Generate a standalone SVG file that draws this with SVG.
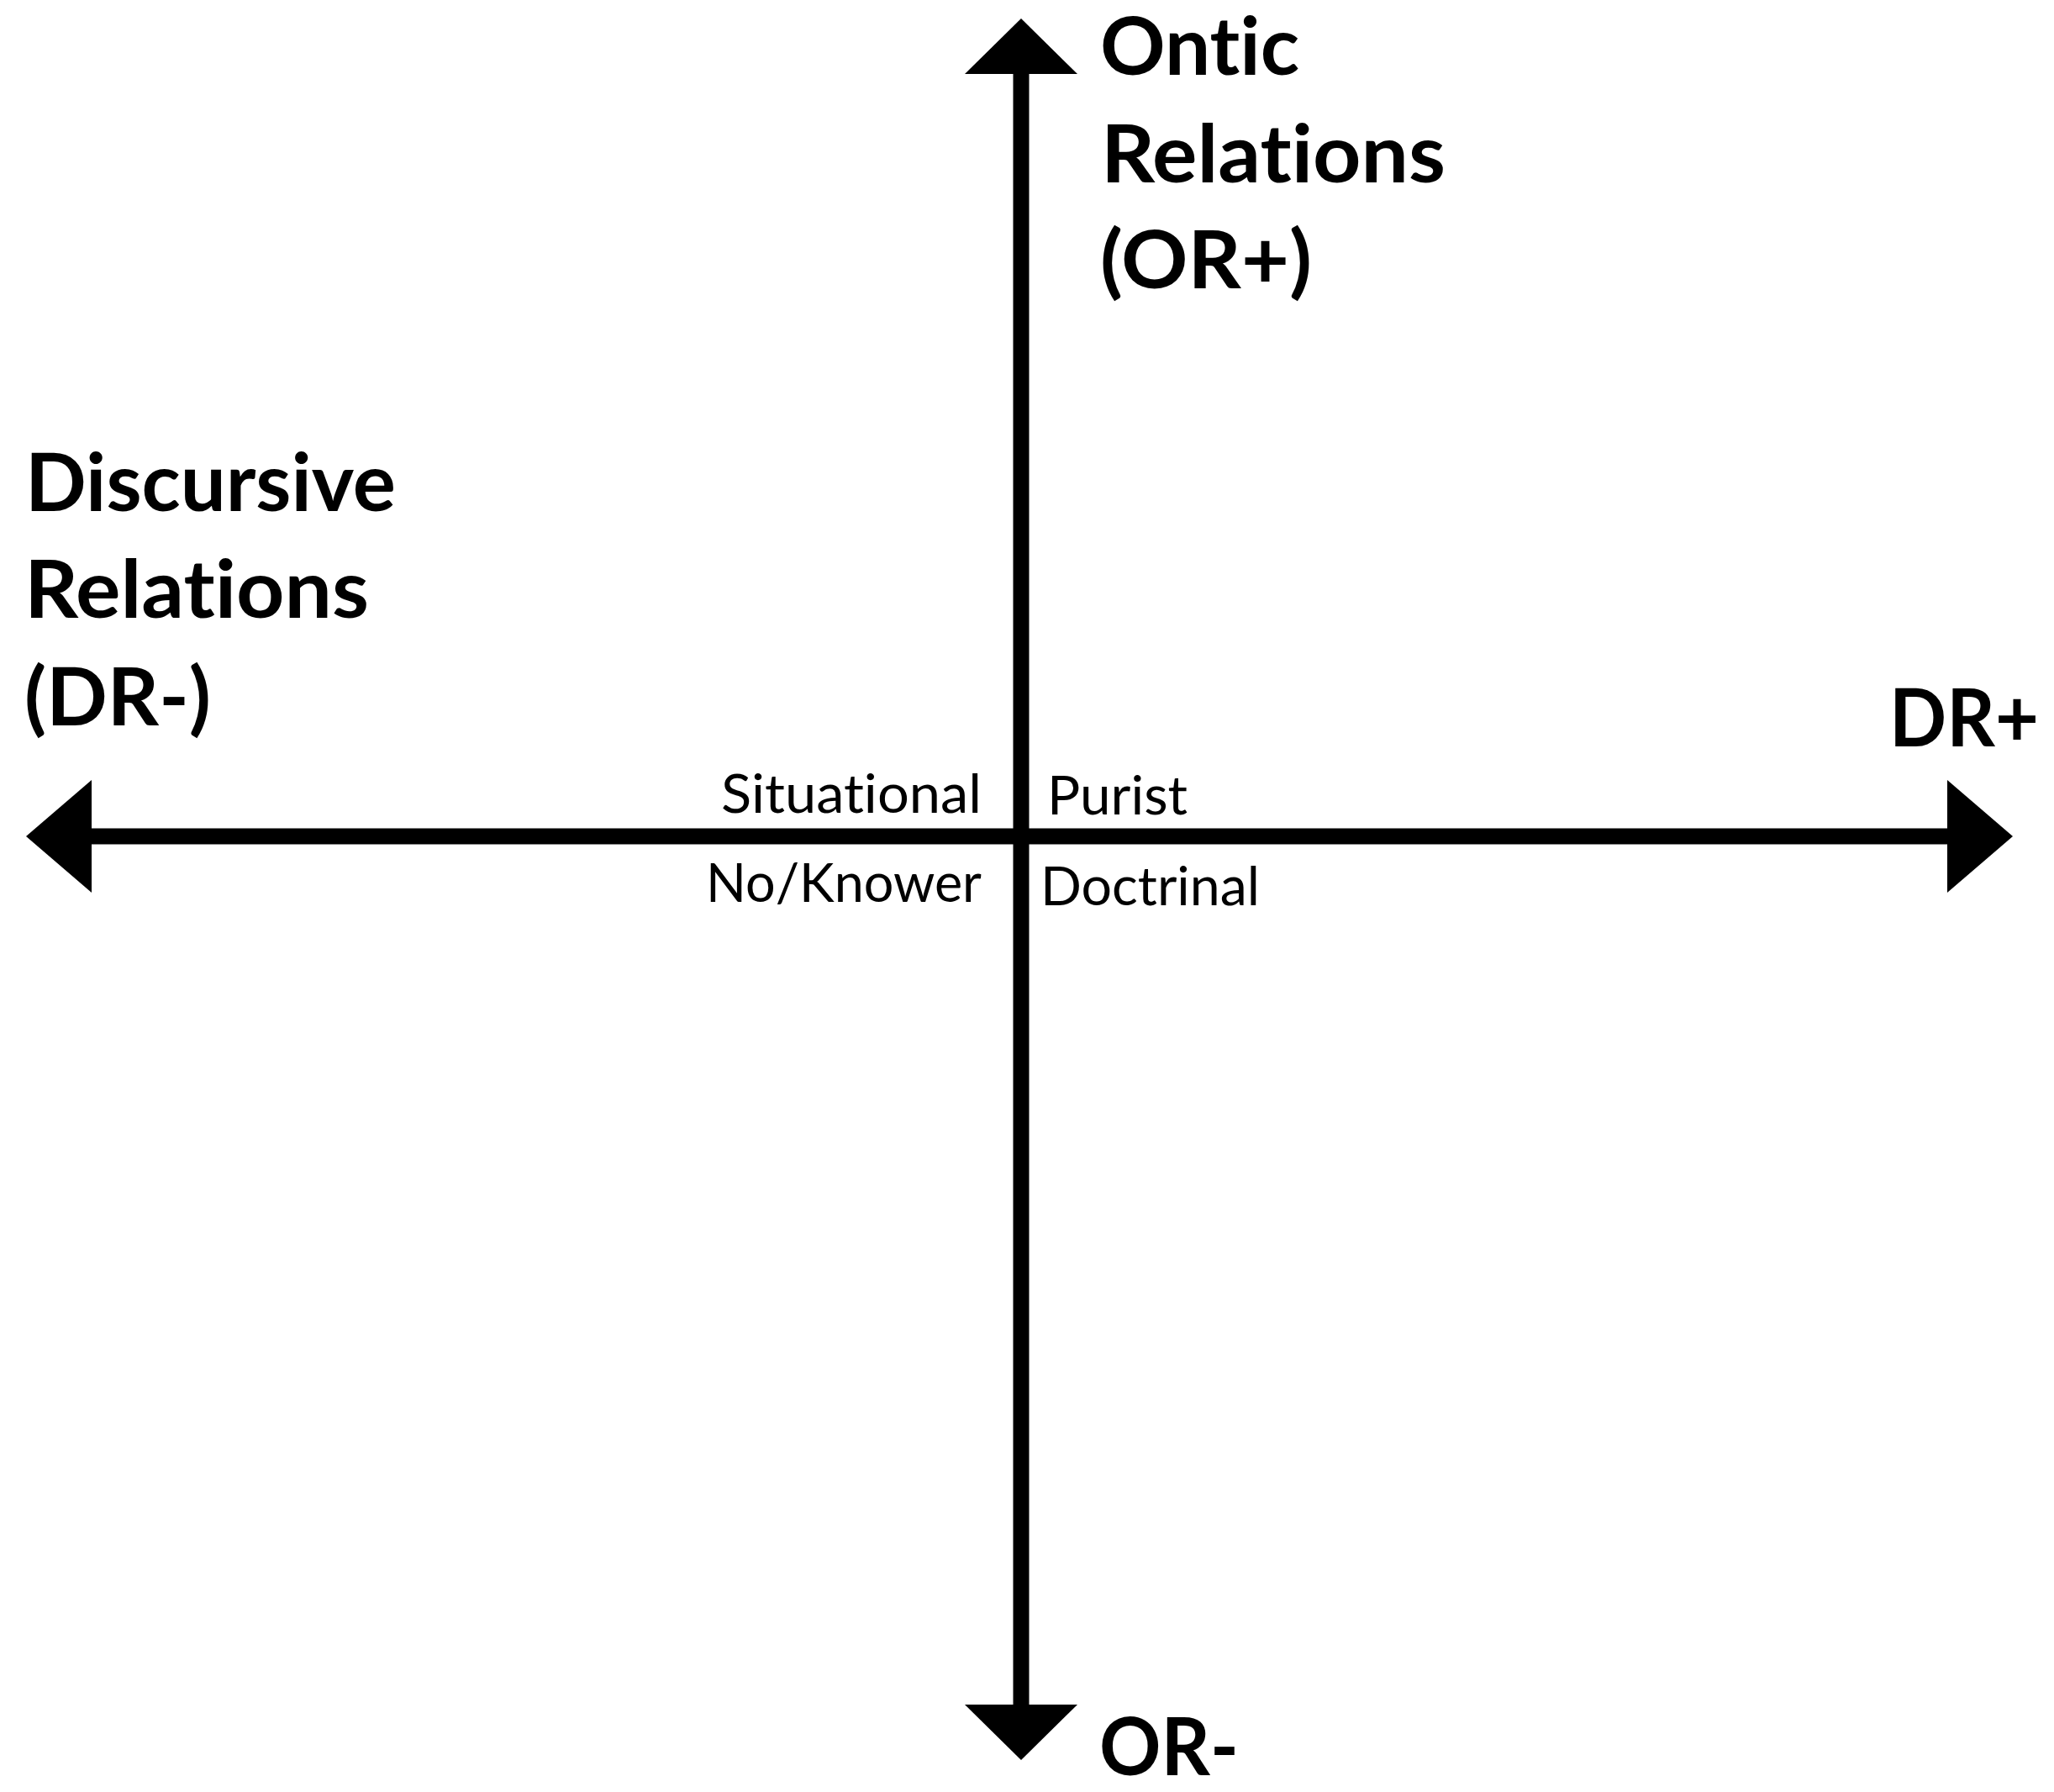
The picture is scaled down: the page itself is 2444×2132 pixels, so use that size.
<svg xmlns="http://www.w3.org/2000/svg" width="2444" height="2132" viewBox="0 0 2444 2132">
  <style>
    .axis { stroke: #000; stroke-width: 19; fill: none; stroke-linecap: butt; }
    .big { font-family: Lato, "Open Sans", "Liberation Sans", sans-serif; font-weight: 700; font-size: 95px; fill: #000; font-variant-ligatures: none; font-feature-settings: "liga" 0, "clig" 0; }
    .small { font-family: Lato, "Open Sans", "Liberation Sans", sans-serif; font-weight: 400; font-size: 63px; fill: #000; font-variant-ligatures: none; font-feature-settings: "liga" 0, "clig" 0; }
  </style>
  <defs>
    <marker id="arrowH" markerUnits="userSpaceOnUse" viewBox="0 0 78 134" refX="0" refY="67" markerWidth="78" markerHeight="134" orient="auto-start-reverse">
      <path d="M0,0 L78,67 L0,134 Z" fill="#000"/>
    </marker>
    <marker id="arrowV" markerUnits="userSpaceOnUse" viewBox="0 0 66 134" refX="0" refY="67" markerWidth="66" markerHeight="134" orient="auto-start-reverse">
      <path d="M0,0 L66,67 L0,134 Z" fill="#000"/>
    </marker>
  </defs>
  <rect width="2444" height="2132" fill="#fff"/>

  <g id="connectors">
    <path id="axis-dr" class="axis" d="M109,995 L2317,995" marker-start="url(#arrowH)" marker-end="url(#arrowH)"/>
    <path id="axis-or" class="axis" d="M1215,2028 L1215,88" marker-start="url(#arrowV)" marker-end="url(#arrowV)"/>
  </g>

  <g id="label-or-plus">
    <text class="big" x="1309" y="89" textLength="237" lengthAdjust="spacingAndGlyphs">Ontic</text>
    <text class="big" x="1310" y="217" textLength="410" lengthAdjust="spacingAndGlyphs">Relations</text>
    <text class="big" x="1309" y="343" textLength="252" lengthAdjust="spacingAndGlyphs">(OR+)</text>
  </g>

  <g id="label-dr-minus">
    <text class="big" x="30" y="608" textLength="441" lengthAdjust="spacingAndGlyphs">Discursive</text>
    <text class="big" x="29" y="735" textLength="410" lengthAdjust="spacingAndGlyphs">Relations</text>
    <text class="big" x="29" y="863" textLength="222" lengthAdjust="spacingAndGlyphs">(DR-)</text>
  </g>

  <g id="label-dr-plus">
    <text class="big" x="2248" y="888" textLength="178" lengthAdjust="spacingAndGlyphs">DR+</text>
  </g>

  <g id="label-or-minus">
    <text class="big" x="1308" y="2112" textLength="166" lengthAdjust="spacingAndGlyphs">OR-</text>
  </g>

  <g id="quadrant-situational">
    <text class="small" x="1168" y="967" text-anchor="end" textLength="310" lengthAdjust="spacingAndGlyphs">Situational</text>
  </g>
  <g id="quadrant-purist">
    <text class="small" x="1246" y="969" textLength="167" lengthAdjust="spacingAndGlyphs">Purist</text>
  </g>
  <g id="quadrant-noknower">
    <text class="small" x="1168" y="1073" text-anchor="end" textLength="328" lengthAdjust="spacingAndGlyphs">No/Knower</text>
  </g>
  <g id="quadrant-doctrinal">
    <text class="small" x="1238" y="1077" textLength="261" lengthAdjust="spacingAndGlyphs">Doctrinal</text>
  </g>
</svg>
